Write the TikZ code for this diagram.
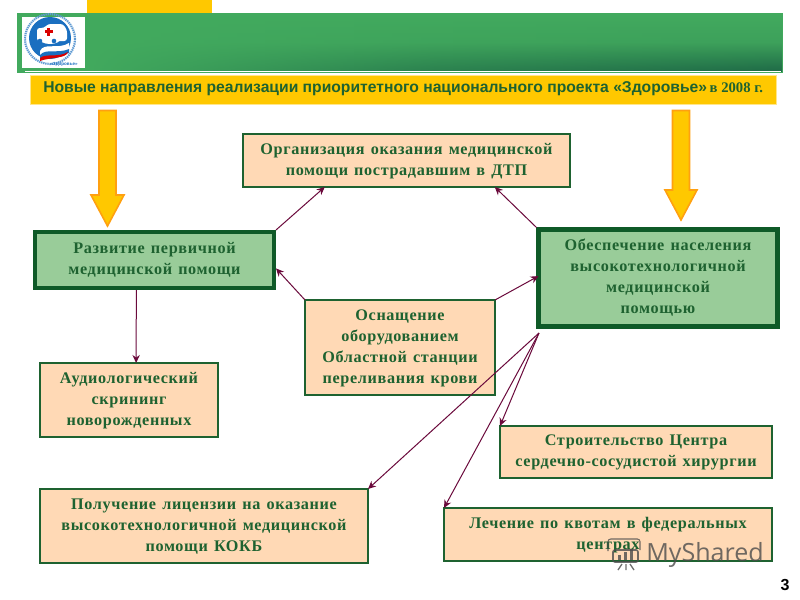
\documentclass[tikz,border=0pt]{standalone}
\usepackage{fontspec}
\setmainfont{Liberation Serif}
\newfontfamily\boxfont[LetterSpace=4,WordSpace=1.3]{Liberation Serif}
\newfontfamily\headfont{Liberation Sans}
\newfontfamily\markfont{Open Sans}
\usetikzlibrary{arrows.meta,fadings,calc}
\definecolor{darkgreen}{HTML}{0F5A28}
\definecolor{txtgreen}{HTML}{1E6230}
\definecolor{peach}{HTML}{FFD9B5}
\definecolor{midgreen}{HTML}{99CC99}
\definecolor{barGreen}{HTML}{42AA5E}
\definecolor{barDark}{HTML}{1F6B47}
\definecolor{wine}{HTML}{6B0A3C}
\definecolor{gold}{HTML}{FFC800}
\definecolor{orangeedge}{HTML}{FFA010}
\definecolor{logoblue}{HTML}{1A6FC0}
\tikzfading[name=barfade,left color=transparent!100,right color=transparent!0,middle color=transparent!35]
\tikzset{
  x=0.75pt,y=-0.75pt,
  peachbox/.style={draw=txtgreen,line width=1.2pt,outer sep=0pt,fill=peach,text=txtgreen,inner sep=0pt,anchor=north west,font=\boxfont\bfseries\fontsize{12.15pt}{15.8pt}\selectfont},
  greenbox/.style={draw=darkgreen,line width=3.3pt,outer sep=0pt,fill=midgreen,text=txtgreen,inner sep=0pt,anchor=north west,font=\boxfont\bfseries\fontsize{12.15pt}{15.8pt}\selectfont},
  link/.style={draw=wine,line width=0.75pt,-{Stealth[length=6pt,width=5.5pt]}},
  blockarrow/.style={draw=orangeedge,line width=1.2pt,fill=gold,line join=miter}
}
\newcommand{\pbox}[6]{\node[#1,minimum width=#4*0.75pt,minimum height=#5*0.75pt] (#2) at #3 {\raisebox{-1.1pt}{\begin{tabular}{@{}c@{}}#6\end{tabular}}};}
\begin{document}
\begin{tikzpicture}
\path[use as bounding box] (0,0) rectangle (800,600);
\fill[white] (0,0) rectangle (800,600);
% top band
\fill[gold] (87,0) rectangle (212,13);
\fill[barGreen] (17,13) rectangle (783,73);
\shade[top color=barGreen,bottom color=barDark,middle color=barGreen!85!barDark,path fading=barfade] (85,13) rectangle (783,71);
\draw[white,line width=0.6pt] (25,71.5) -- (781,71.5);
% logo
\fill[white] (22,17) rectangle (85,68);
\draw[logoblue!70!white,line width=1.6pt,dash pattern=on 1pt off 0.6pt] (50,39) circle (25);
\fill[logoblue] (50,38) circle (21);
\fill[white,rounded corners=2pt] (37,28) -- (44,28) -- (48,24) -- (63,24) -- (67,30) -- (67,41) -- (37,41) -- cycle;
\fill[white] (50,38) ellipse (11 and 6);
\fill[logoblue] (40,41) circle (2.3) (54,41) circle (2.3);
\fill[red!85!black] (47.2,27.5) rectangle (50.2,36);
\fill[red!85!black] (44.5,30.2) rectangle (53,33.2);
\fill[white] (40,51) .. controls (44,42) and (58,50) .. (69,43) -- (69,50) .. controls (58,55) and (46,48) .. (40,56) -- cycle;
\fill[logoblue] (40,55) .. controls (46,48) and (58,54) .. (69,49) -- (69,53) .. controls (58,58) and (46,53) .. (40,59) -- cycle;
\fill[red!85!black] (40,58) .. controls (46,53) and (58,58) .. (68,52) .. controls (66,59) and (50,57) .. (40,61) -- cycle;
\node[inner sep=0pt,text=logoblue] (logotext) at (64,64) {\headfont\bfseries\fontsize{3.4pt}{4pt}\selectfont «Здоровье»};
% header bar
\node[draw=gold!45!white,line width=1pt,fill=gold,minimum width=746*0.75pt,minimum height=29*0.75pt,inner sep=0pt,outer sep=0pt,anchor=north west] (title) at (30.5,75.5) {};
\node[anchor=west,inner sep=0pt,text=txtgreen] (titletext) at (43,88.5) {\headfont\bfseries\fontsize{11.75pt}{12pt}\selectfont Новые направления реализации приоритетного национального проекта «Здоровье»\,{\rmfamily\fontsize{11pt}{12pt}\selectfont в 2008 г.}};
% block arrows
\draw[blockarrow] (99,110.5) -- (116,110.5) -- (116,195) -- (124,195) -- (107.5,226) -- (91,195) -- (99,195) -- cycle;
\draw[blockarrow] (672.5,110.5) -- (689.5,110.5) -- (689.5,190) -- (697,190) -- (681,220) -- (665,190) -- (672.5,190) -- cycle;
% boxes
\pbox{peachbox}{org}{(243,134)}{327}{53}{Организация оказания медицинской\\помощи пострадавшим в ДТП}
\pbox{greenbox}{razv}{(35,232)}{239}{56}{Развитие первичной\\ медицинской помощи}
\pbox{greenbox}{obes}{(538.5,229.5)}{239}{97}{Обеспечение населения\\высокотехнологичной\\медицинской\\помощью}
\pbox{peachbox}{osn}{(305,300)}{190}{95}{Оснащение\\оборудованием\\Областной станции\\переливания крови}
\pbox{peachbox}{aud}{(40,363)}{178}{74}{Аудиологический\\скрининг\\новорожденных}
\pbox{peachbox}{stroi}{(500,426)}{272}{52}{Строительство Центра\\сердечно-сосудистой хирургии}
\pbox{peachbox}{pol}{(40,489)}{328}{74}{Получение лицензии на оказание\\высокотехнологичной медицинской\\помощи КОКБ}
\pbox{peachbox}{lech}{(444,508)}{328}{53}{Лечение по квотам в федеральных\\центрах}
% connector ends
\coordinate (fan) at (539,333);
% connectors
\draw[link] ($(razv.north east)+(2,-2)$) -- ($(org.south west)!0.25!(org.south east)$);
\draw[link] ($(obes.north west)+(-2,-2)$) -- ($(org.south west)!0.77!(org.south east)$);
\draw[link] (osn.north west) -- ($(razv.north east)!0.65!(razv.south east)+(2,0)$);
\draw[link] (osn.north east) -- ($(obes.north west)!0.48!(obes.south west)$);
\draw[link] ($(razv.south west)!0.424!(razv.south east)+(0,2)$) -- ($(aud.north west)!0.54!(aud.north east)$);
\draw[link] (fan) -- (pol.north east);
\draw[link] (fan) -- (stroi.north west);
\draw[link] (fan) -- (lech.north west);
% watermark
\begin{scope}[gray!60!black,opacity=0.8]
  \draw[line width=0.8pt,rounded corners=2pt] (608,551) -- (608,539) -- (640,539) -- (640,550);
  \draw[line width=1.2pt,rounded corners=1.5pt] (613,550) rectangle (638,562);
  \fill (618,555) rectangle (621,560);
  \fill (624,552) rectangle (627,560);
  \fill (630,549) rectangle (633,560);
  \draw[line width=1pt] (622,564) -- (618,570) (626,564) -- (626,570) (630,564) -- (634,570);
\end{scope}
\node[anchor=west,inner sep=0pt,text=gray!60!black,opacity=0.8] (mark) at (646,555) {\markfont\fontsize{18.8pt}{20pt}\selectfont MyShared};
% page number
\node[inner sep=0pt,font=\headfont\bfseries\fontsize{12pt}{14pt}\selectfont] (pagenum) at (785,585) {3};
\end{tikzpicture}
\end{document}
